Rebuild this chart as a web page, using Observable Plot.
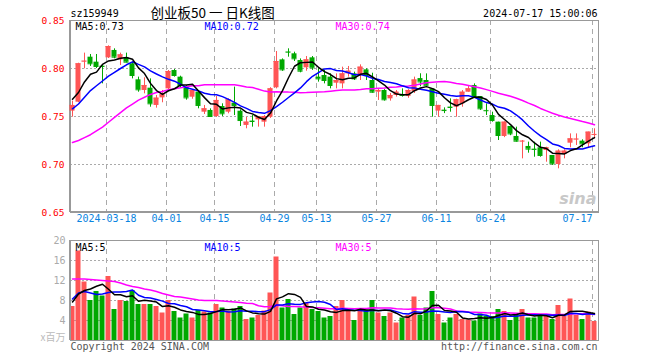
<!DOCTYPE html>
<html><head><meta charset="utf-8">
<script src="https://cdn.jsdelivr.net/npm/d3@7"></script>
<script src="https://cdn.jsdelivr.net/npm/@observablehq/plot@0.6"></script>
<style>
body{margin:0;background:#fff;}
#wrap{position:relative;width:660px;height:360px;overflow:hidden;background:#fff;}
#price,#vol{position:absolute;left:0;}
#price{top:0}
#vol{top:230px}
</style></head><body>
<div id="wrap"><div id="price"></div><div id="vol"></div></div>
<script>
// ---------- data ----------
const dates = [
"2024-03-08","2024-03-11","2024-03-12","2024-03-13","2024-03-14","2024-03-15","2024-03-18","2024-03-19","2024-03-20","2024-03-21",
"2024-03-22","2024-03-25","2024-03-26","2024-03-27","2024-03-28","2024-03-29","2024-04-01","2024-04-02","2024-04-03","2024-04-08",
"2024-04-09","2024-04-10","2024-04-11","2024-04-12","2024-04-15","2024-04-16","2024-04-17","2024-04-18","2024-04-19","2024-04-22",
"2024-04-23","2024-04-24","2024-04-25","2024-04-26","2024-04-29","2024-04-30","2024-05-06","2024-05-07","2024-05-08","2024-05-09",
"2024-05-10","2024-05-13","2024-05-14","2024-05-15","2024-05-16","2024-05-17","2024-05-20","2024-05-21","2024-05-22","2024-05-23",
"2024-05-24","2024-05-27","2024-05-28","2024-05-29","2024-05-30","2024-05-31","2024-06-03","2024-06-04","2024-06-05","2024-06-06",
"2024-06-07","2024-06-11","2024-06-12","2024-06-13","2024-06-14","2024-06-17","2024-06-18","2024-06-19","2024-06-20","2024-06-21",
"2024-06-24","2024-06-25","2024-06-26","2024-06-27","2024-06-28","2024-07-01","2024-07-02","2024-07-03","2024-07-04","2024-07-05",
"2024-07-08","2024-07-09","2024-07-10","2024-07-11","2024-07-12","2024-07-15","2024-07-16","2024-07-17"];

const openP = [
0.7556,0.7649,0.8072,0.8118,0.8066,0.8024,0.8111,0.8188,0.8090,0.8111,
0.8049,0.7882,0.7771,0.7795,0.7615,0.7694,0.7788,0.7979,0.7910,0.7806,
0.7701,0.7754,0.7545,0.7563,0.7500,0.7604,0.7545,0.7639,0.7555,0.7407,
0.7452,0.7465,0.7441,0.7493,0.7799,0.8090,0.8173,0.8153,0.8083,0.8007,
0.8111,0.7910,0.7927,0.7910,0.7847,0.7840,0.7944,0.7944,0.7927,0.7986,
0.7875,0.7753,0.7771,0.7684,0.7719,0.7726,0.7708,0.7760,0.7895,0.7875,
0.7788,0.7556,0.7566,0.7598,0.7597,0.7632,0.7753,0.7823,0.7708,0.7563,
0.7510,0.7441,0.7292,0.7396,0.7292,0.7240,0.7188,0.7160,0.7174,0.7146,
0.7094,0.7000,0.7104,0.7222,0.7260,0.7243,0.7215,0.7310];

const highP = [
0.7660,0.8055,0.8160,0.8146,0.8146,0.8031,0.8236,0.8205,0.8160,0.8160,
0.8066,0.7910,0.7903,0.7892,0.7719,0.7771,0.7979,0.7990,0.7920,0.7823,
0.7780,0.7771,0.7615,0.7580,0.7708,0.7632,0.7684,0.7806,0.7570,0.7490,
0.7510,0.7500,0.7510,0.7800,0.8177,0.8100,0.8205,0.8170,0.8100,0.8125,
0.8125,0.7997,0.7979,0.7944,0.7944,0.8014,0.8021,0.7962,0.8038,0.7997,
0.7951,0.7788,0.7780,0.7740,0.7771,0.7788,0.7780,0.7910,0.7945,0.7944,
0.7790,0.7616,0.7590,0.7684,0.7680,0.7770,0.7823,0.7840,0.7708,0.7632,
0.7545,0.7441,0.7445,0.7400,0.7389,0.7250,0.7233,0.7233,0.7233,0.7180,
0.7094,0.7153,0.7153,0.7319,0.7319,0.7257,0.7337,0.7372];

const lowP = [
0.7493,0.7645,0.7997,0.8021,0.8000,0.7840,0.8104,0.8101,0.8031,0.8059,
0.7892,0.7753,0.7736,0.7597,0.7587,0.7643,0.7778,0.7910,0.7800,0.7670,
0.7680,0.7580,0.7521,0.7490,0.7490,0.7500,0.7528,0.7510,0.7396,0.7372,
0.7389,0.7389,0.7389,0.7480,0.7788,0.7970,0.8118,0.8073,0.7955,0.7972,
0.7980,0.7858,0.7840,0.7788,0.7788,0.7788,0.7910,0.7875,0.7875,0.7875,
0.7743,0.7667,0.7660,0.7660,0.7702,0.7702,0.7690,0.7740,0.7810,0.7820,
0.7493,0.7493,0.7530,0.7545,0.7493,0.7597,0.7753,0.7701,0.7563,0.7510,
0.7441,0.7250,0.7280,0.7300,0.7233,0.7059,0.7118,0.7076,0.7076,0.7024,
0.6990,0.6955,0.7059,0.7174,0.7198,0.7174,0.7174,0.7267];

const closeP = [
0.7615,0.8049,0.8076,0.8049,0.8021,0.8021,0.8229,0.8118,0.8142,0.8066,
0.7927,0.7778,0.7823,0.7632,0.7691,0.7726,0.7969,0.7927,0.7823,0.7694,
0.7771,0.7615,0.7580,0.7500,0.7667,0.7528,0.7674,0.7615,0.7458,0.7441,
0.7448,0.7500,0.7500,0.7788,0.8073,0.7986,0.8170,0.8101,0.7972,0.8090,
0.8007,0.7892,0.7875,0.7823,0.7875,0.7944,0.7972,0.7892,0.8014,0.7927,
0.7753,0.7771,0.7674,0.7719,0.7753,0.7719,0.7771,0.7880,0.7860,0.7825,
0.7615,0.7615,0.7562,0.7594,0.7674,0.7753,0.7788,0.7708,0.7580,0.7560,
0.7458,0.7302,0.7441,0.7319,0.7243,0.7243,0.7160,0.7157,0.7094,0.7174,
0.7007,0.7139,0.7139,0.7267,0.7264,0.7215,0.7337,0.7313];

// volume, millions
const volume = [
6.8,17.9,11.7,8.0,9.8,8.9,12.8,6.2,8.0,7.8,
10.0,7.2,7.2,7.2,6.8,5.5,8.0,5.8,4.5,5.3,
4.5,6.0,5.7,5.5,7.2,6.5,5.8,6.3,6.8,4.2,
4.5,5.0,5.9,9.5,16.7,6.5,8.2,5.2,6.5,7.5,
6.2,5.8,4.5,4.8,6.8,8.0,6.2,4.0,6.2,6.0,
8.0,5.5,4.8,5.5,3.5,4.5,5.0,8.7,5.0,6.5,
9.8,5.2,3.5,4.5,5.2,4.2,4.1,3.9,5.3,4.8,
4.8,6.2,5.8,4.0,5.3,6.2,4.5,4.5,4.8,4.8,
4.2,7.0,4.8,8.3,5.0,4.2,5.7,3.8];

const ma5Lead  = [0.768,0.775,0.786,0.794];
const ma10Lead = [0.758,0.763,0.770,0.777,0.782,0.787,0.792,0.796,0.800];
const ma30Lead = [0.723,0.725,0.728,0.731,0.735,0.739,0.744,0.749,0.754,0.759,0.763,0.767,0.770,0.773,0.775,
                  0.776,0.778,0.779,0.780,0.781,0.782,0.782,0.783,0.783,0.783,0.783,0.783,0.783,0.782];
const vma5Lead  = [7.7,9.3,10.0,10.3];
const vma10Lead = [8.3,9.5,9.8,9.5,9.2,9.3,9.6,9.7,9.7];
const vma30Lead = [12.3,12.3,12.3,12.2,12.1,12.0,11.9,11.8,11.5,11.1,10.8,10.6,10.3,10.1,9.8,
                   9.4,9.1,8.8,8.7,8.5,8.3,8.1,8.0,8.0,8.0,7.9,7.8,7.7,7.6];

const tickDates  = ["2024-03-18","2024-04-01","2024-04-15","2024-04-29","2024-05-13","2024-05-27","2024-06-11","2024-06-24","2024-07-17"];
const tickLabels = ["2024-03-18","04-01","04-15","04-29","05-13","05-27","06-11","06-24","07-17"];
const priceTicks = [0.65,0.70,0.75,0.80,0.85];
const priceGrid  = [0.70,0.75,0.80];
const volTicks   = [4,8,12,16,20];
const volGrid    = [4,8,12,16];

const titleCode = "sz159949";
const titleName = "创业板50 一 日K线图";
const stamp = "2024-07-17 15:00:06";
const volUnit = "x百万";
const copyright = "Copyright 2024 SINA.COM";
const site = "http://finance.sina.com.cn";

// ---------- derived ----------
const UP = "#ff5555", DOWN = "#00a800";
const GRID = "#aaaaaa", BORDER = "#999999";
function movingAvg(values, n, lead) {
  return values.map((_, i) => i < lead.length ? lead[i] : d3.mean(values.slice(i - n + 1, i + 1)));
}
const ma5 = movingAvg(closeP, 5, ma5Lead), ma10 = movingAvg(closeP, 10, ma10Lead), ma30 = movingAvg(closeP, 30, ma30Lead);
const vma5 = movingAvg(volume, 5, vma5Lead), vma10 = movingAvg(volume, 10, vma10Lead), vma30 = movingAvg(volume, 30, vma30Lead);

const rows = dates.map((date, i) => ({
  date, open: openP[i], high: highP[i], low: lowP[i], close: closeP[i], vol: volume[i],
  color: closeP[i] >= openP[i] ? UP : DOWN,
  ma5: ma5[i], ma10: ma10[i], ma30: ma30[i], vma5: vma5[i], vma10: vma10[i], vma30: vma30[i]
}));
const ticks = tickDates.map((d, i) => ({date: d, label: tickLabels[i]}));
const last = rows[rows.length - 1];
const f2 = d3.format(".2f"), f0 = d3.format(".0f");

const MONO = "DejaVu Sans Mono";
const common = {
  width: 660, marginLeft: 70, marginRight: 62,
  x: {type: "band", domain: dates, padding: 0, axis: null},
  color: {type: "identity"},
  style: {fontFamily: MONO, fontSize: "10px", background: "transparent"}
};

const price = Plot.plot({
  ...common, height: 230, marginTop: 20, marginBottom: 18,
  y: {domain: [0.65, 0.85], axis: null},
  marks: [
    Plot.ruleY(priceGrid, {stroke: GRID, strokeDasharray: "2,2"}),
    Plot.ruleX(tickDates, {x: d => d, dx: -3, stroke: GRID, strokeDasharray: "5,4"}),
    Plot.frame({stroke: BORDER}),
    Plot.ruleX(dates.slice(0, 1), {x: d => d, dx: -4, stroke: BORDER}),
    Plot.ruleY(priceTicks.slice(0, 1), {y: d => d, dy: -1, stroke: BORDER}),
    Plot.text(["sina"], {frameAnchor: "bottom-right", dx: -2, dy: -9, textAnchor: "end", fontSize: 16,
      fontWeight: "bold", fontStyle: "italic", fontFamily: "DejaVu Sans", fill: "#c8c8c8"}),
    Plot.ruleX(rows, {x: "date", y1: "low", y2: "high", stroke: "color", dx: -1}),
    Plot.barY(rows, {x: "date", y1: "open", y2: "close", fill: "color", insetRight: 1, dx: -0.5}),
    Plot.tickY(rows, {x: "date", y: "close", stroke: "color", insetRight: 1, dx: -0.5}),
    Plot.line(rows, {x: "date", y: "ma30", stroke: "#ff00ff", dx: -1}),
    Plot.line(rows, {x: "date", y: "ma10", stroke: "#0000ff", dx: -1}),
    Plot.line(rows, {x: "date", y: "ma5", stroke: "#000000", dx: -1}),
    Plot.text([`MA5:${f2(last.ma5)}`], {frameAnchor: "top-left", dx: 5, dy: 9.5, lineAnchor: "bottom", fill: "#000"}),
    Plot.text([`MA10:${f2(last.ma10)}`], {frameAnchor: "top-left", dx: 134, dy: 9.5, lineAnchor: "bottom", fill: "#0000ff"}),
    Plot.text([`MA30:${f2(last.ma30)}`], {frameAnchor: "top-left", dx: 265, dy: 9.5, lineAnchor: "bottom", fill: "#ff00ff"}),
    Plot.text(priceTicks, {y: d => d, text: d => f2(d), frameAnchor: "left", dx: -6, textAnchor: "end", fill: "#ff0000", fontSize: 9.5}),
    Plot.text(ticks.slice(0, -1), {x: "date", text: "label", frameAnchor: "bottom", dx: -3, dy: 9, fill: "#0a84e0"}),
    Plot.text(ticks.slice(-1), {x: "date", text: "label", frameAnchor: "bottom", dx: -3, dy: 9, textAnchor: "end", fill: "#0a84e0"}),
    Plot.text([titleCode], {frameAnchor: "top-left", dy: -3.5, lineAnchor: "bottom", fill: "#000"}),
    Plot.text([titleName], {frameAnchor: "top-left", dx: 80, dy: -3, lineAnchor: "bottom", fill: "#000",
      fontSize: 13.5, fontFamily: "Noto Sans CJK SC"}),
    Plot.text([stamp], {frameAnchor: "top-right", dx: -1, dy: -3.5, lineAnchor: "bottom", textAnchor: "end", fill: "#000"})
  ]
});

const vol = Plot.plot({
  ...common, height: 130, marginTop: 10, marginBottom: 20,
  y: {domain: [0, 20], axis: null},
  marks: [
    Plot.ruleY(volGrid, {stroke: GRID, strokeDasharray: "2,2"}),
    Plot.ruleX(tickDates, {x: d => d, dx: -3, stroke: GRID, strokeDasharray: "5,4"}),
    Plot.barY(rows, {x: "date", y: "vol", fill: "color", insetRight: 1, dx: -0.5}),
    Plot.frame({stroke: BORDER}),
    Plot.ruleX(dates.slice(0, 1), {x: d => d, dx: -4, stroke: BORDER}),
    Plot.line(rows, {x: "date", y: "vma30", stroke: "#ff00ff", dx: -1}),
    Plot.line(rows, {x: "date", y: "vma10", stroke: "#0000ff", dx: -1}),
    Plot.line(rows, {x: "date", y: "vma5", stroke: "#000000", dx: -1}),
    Plot.text([`MA5:${f0(last.vma5)}`], {frameAnchor: "top-left", dx: 5, dy: 10, lineAnchor: "bottom", fill: "#000"}),
    Plot.text([`MA10:${f0(last.vma10)}`], {frameAnchor: "top-left", dx: 134, dy: 10, lineAnchor: "bottom", fill: "#0000ff"}),
    Plot.text([`MA30:${f0(last.vma30)}`], {frameAnchor: "top-left", dx: 265, dy: 10, lineAnchor: "bottom", fill: "#ff00ff"}),
    Plot.text(volTicks, {y: d => d, text: d => String(d), frameAnchor: "left", dx: -5, textAnchor: "end", fill: "#aaaaaa"}),
    Plot.text([volUnit], {frameAnchor: "bottom-left", dx: -5, textAnchor: "end", fill: "#bbbbbb", fontFamily: "Noto Sans CJK SC", fontSize: 10}),
    Plot.text([copyright], {frameAnchor: "bottom-left", dy: 9, lineAnchor: "bottom", fill: "#555"}),
    Plot.text([site], {frameAnchor: "bottom-right", dx: -1, dy: 9, lineAnchor: "bottom", textAnchor: "end", fill: "#555"})
  ]
});

document.getElementById("price").appendChild(price);
document.getElementById("vol").appendChild(vol);
</script>
</body></html>
